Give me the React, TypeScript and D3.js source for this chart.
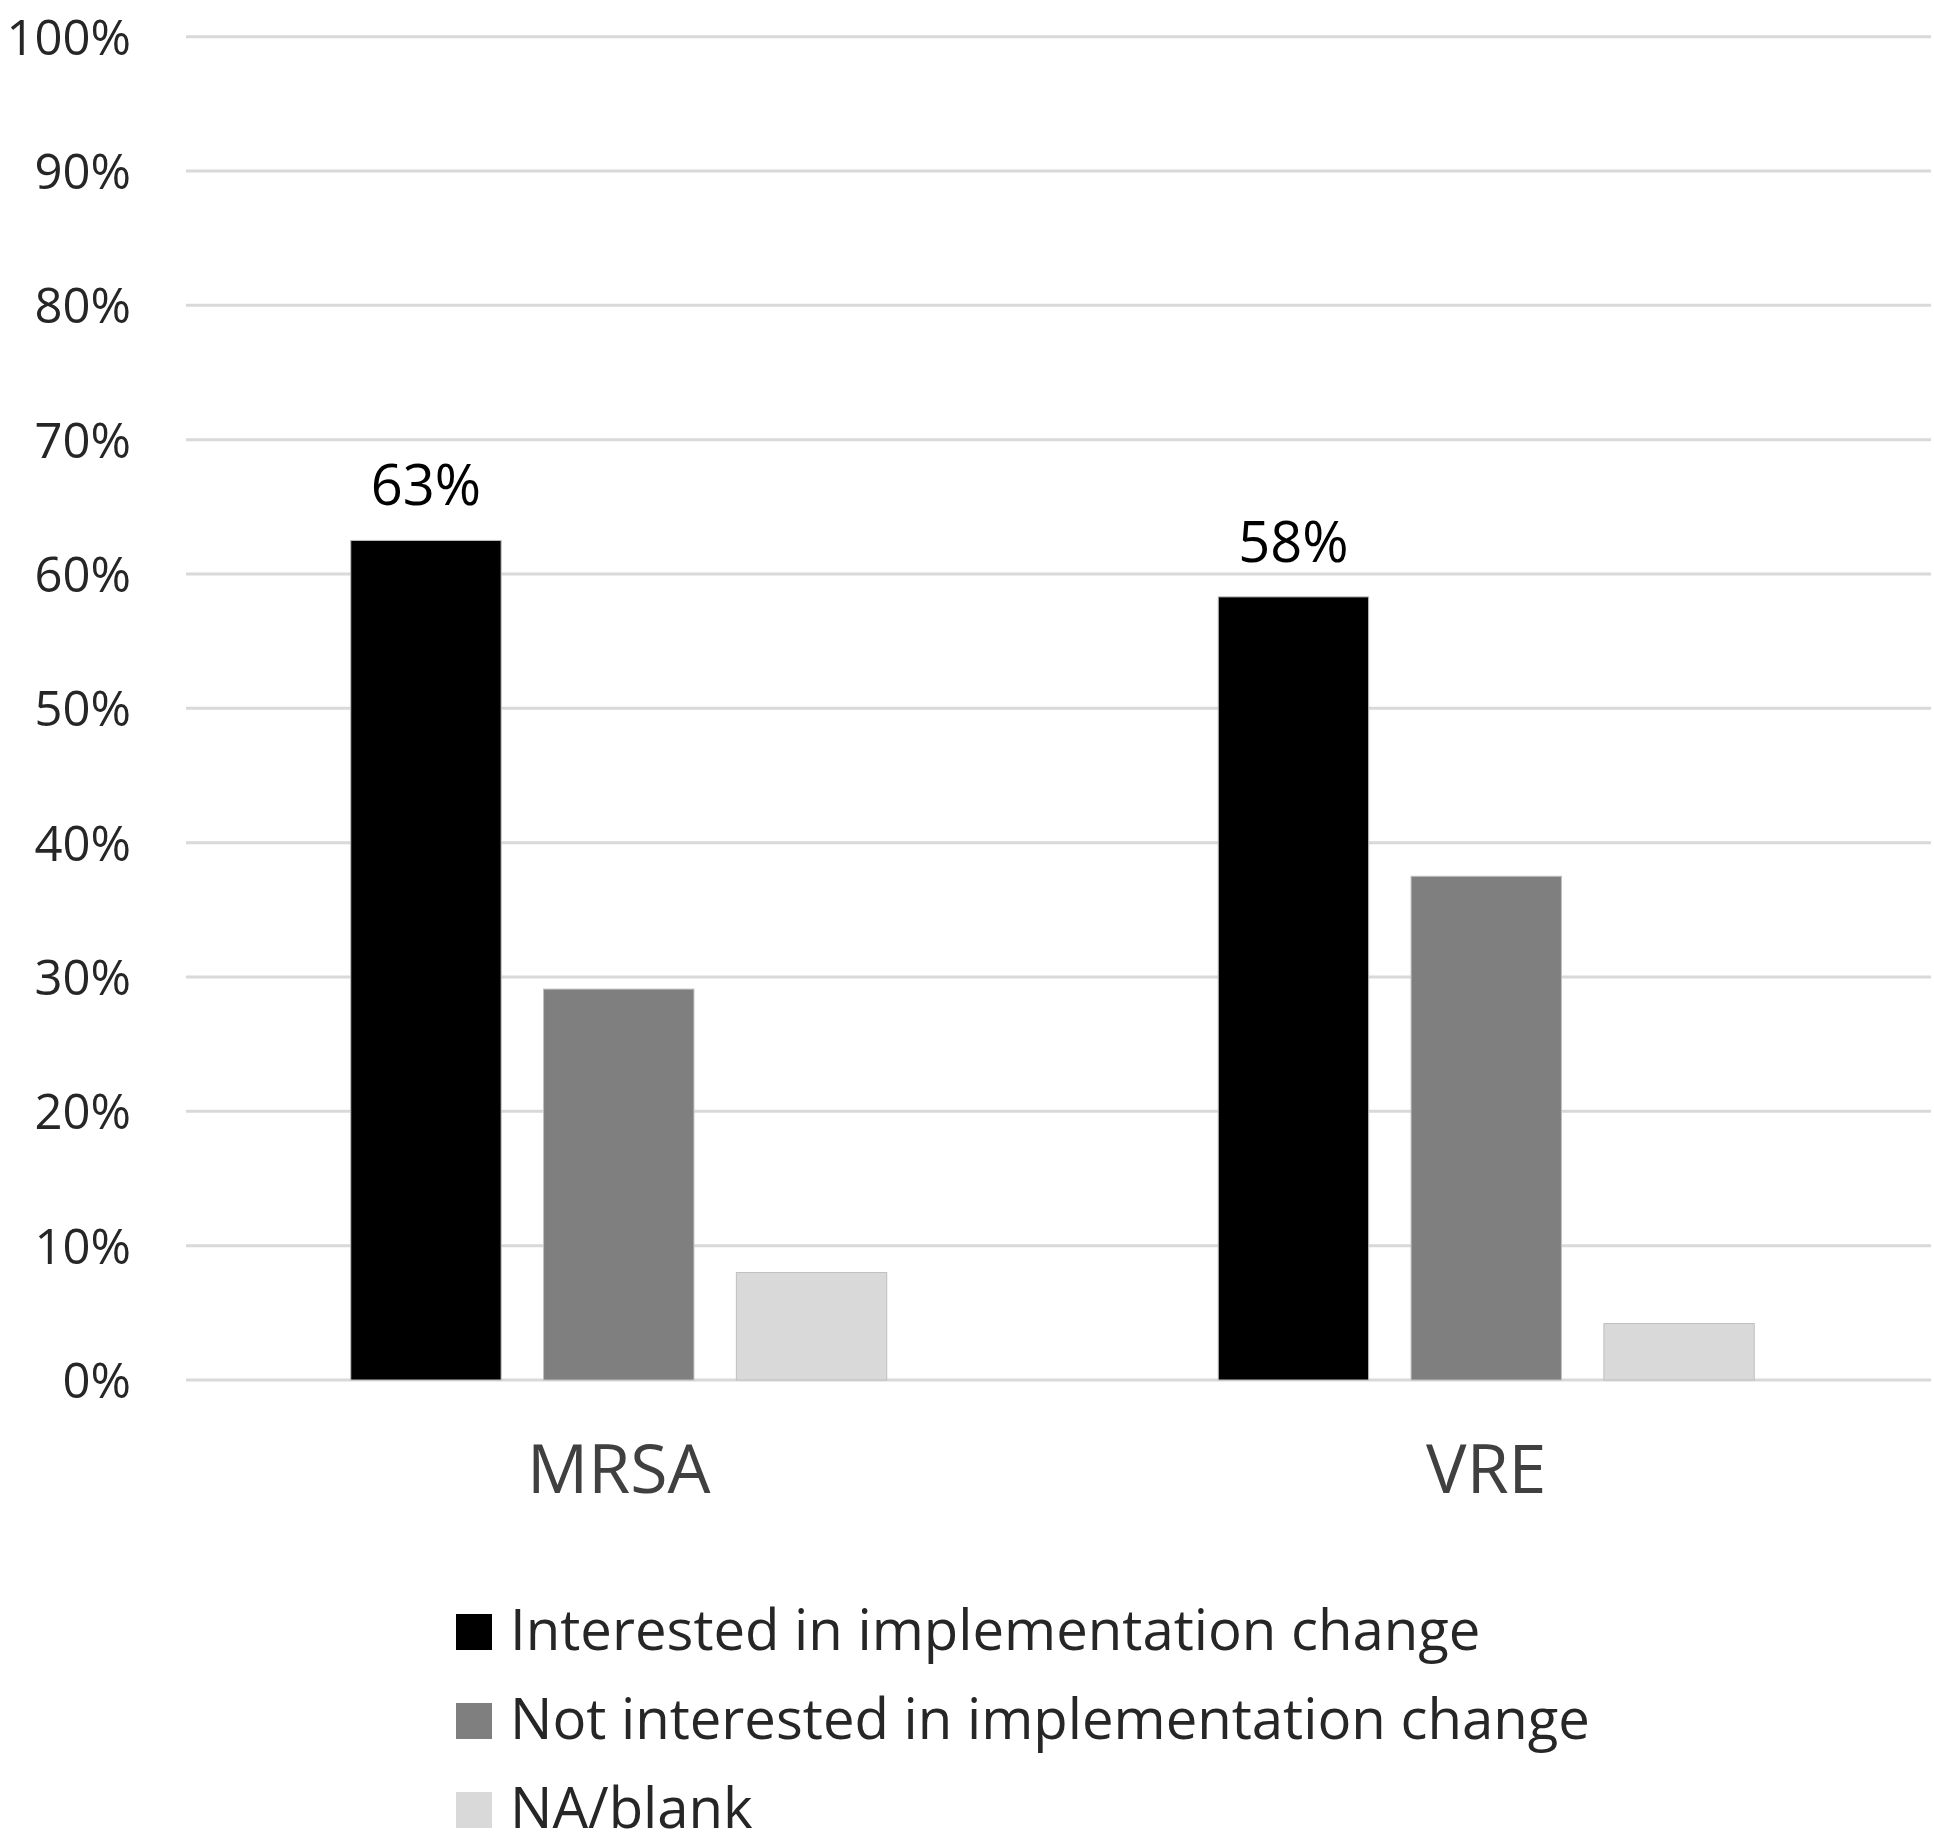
import { useEffect, useRef } from 'react'
import * as d3 from 'd3'

const categories = ['MRSA', 'VRE']
const seriesNames = [
  'Interested in implementation change',
  'Not interested in implementation change',
  'NA/blank',
]
const seriesColors = ['#000000', '#7f7f7f', '#d9d9d9']
const interested = [0.625, 0.583]
const notInterested = [0.291, 0.375]
const naBlank = [0.08, 0.042]
const interestedLabels = ['63%', '58%']
const yTicks = [0, 0.1, 0.2, 0.3, 0.4, 0.5, 0.6, 0.7, 0.8, 0.9, 1]

const WIDTH = 1934
const HEIGHT = 1845
const FONT = "'Open Sans', 'Noto Sans', sans-serif"

export default function App() {
  const svgRef = useRef<SVGSVGElement>(null)

  useEffect(() => {
    document.body.style.margin = '0'
    if (!svgRef.current) return
    const svg = d3.select(svgRef.current)
    svg.selectAll('*').remove()

    const plot = { left: 186, right: 1931, top: 36.7, bottom: 1380 }

    const series = [interested, notInterested, naBlank]
    const rows = categories.map((c, i) => ({
      category: c,
      values: series.map((s, k) => ({ key: seriesNames[k], value: s[i], color: seriesColors[k] })),
    }))

    const y = d3.scaleLinear().domain([0, 1]).range([plot.bottom, plot.top])
    // category bands sit a little left of the gridline span
    const x0 = d3.scaleBand<string>().domain(categories).range([185, 1920]).padding(0)
    const x1 = d3.scaleBand<string>().domain(seriesNames).range([-268, 268]).paddingInner(0.22)

    // gridlines
    svg.append('g')
      .selectAll('line')
      .data(yTicks)
      .enter()
      .append('line')
      .attr('x1', plot.left)
      .attr('x2', plot.right)
      .attr('y1', d => y(d))
      .attr('y2', d => y(d))
      .attr('stroke', '#d9d9d9')
      .attr('stroke-width', 3)

    // y tick labels
    svg.append('g')
      .selectAll('text')
      .data(yTicks)
      .enter()
      .append('text')
      .attr('x', 131)
      .attr('y', d => y(d))
      .attr('dy', '0.37em')
      .attr('text-anchor', 'end')
      .attr('font-family', FONT)
      .attr('font-size', 49)
      .attr('fill', '#262626')
      .text(d => d3.format('.0%')(d))

    // bars
    const groups = svg.append('g')
      .selectAll('g')
      .data(rows)
      .enter()
      .append('g')
      .attr('transform', d => `translate(${x0(d.category)! + x0.bandwidth() / 2},0)`)

    groups.selectAll('rect')
      .data(d => d.values)
      .enter()
      .append('rect')
      .attr('x', d => x1(d.key)!)
      .attr('width', x1.bandwidth())
      .attr('y', d => y(d.value))
      .attr('height', d => y(0) - y(d.value))
      .attr('fill', d => d.color)
      .attr('stroke', '#bfbfbf')
      .attr('stroke-width', 1)

    // data labels on first series
    groups.append('text')
      .attr('x', x1(seriesNames[0])! + x1.bandwidth() / 2)
      .attr('y', (_, i) => y(interested[i]) - 35)
      .attr('text-anchor', 'middle')
      .attr('font-family', FONT)
      .attr('font-size', 56)
      .attr('fill', '#000000')
      .text((_, i) => interestedLabels[i])

    // category labels
    groups.append('text')
      .attr('x', 0)
      .attr('y', plot.bottom + 113)
      .attr('text-anchor', 'middle')
      .attr('font-family', FONT)
      .attr('font-size', 68)
      .attr('fill', '#404040')
      .text(d => d.category)

    // legend
    const legend = svg.append('g').attr('transform', 'translate(456,1650)')
    const items = legend.selectAll('g')
      .data(seriesNames)
      .enter()
      .append('g')
      .attr('transform', (_, i) => `translate(0,${i * 89})`)

    items.append('rect')
      .attr('x', 0)
      .attr('y', -36)
      .attr('width', 36)
      .attr('height', 36)
      .attr('fill', (_, i) => seriesColors[i])

    items.append('text')
      .attr('x', 54)
      .attr('y', 0)
      .attr('font-family', FONT)
      .attr('font-size', 56.3)
      .attr('fill', '#262626')
      .text(d => d)
  }, [])

  return (
    <svg
      ref={svgRef}
      width={WIDTH}
      height={HEIGHT}
      style={{ display: 'block', background: '#ffffff' }}
    />
  )
}
